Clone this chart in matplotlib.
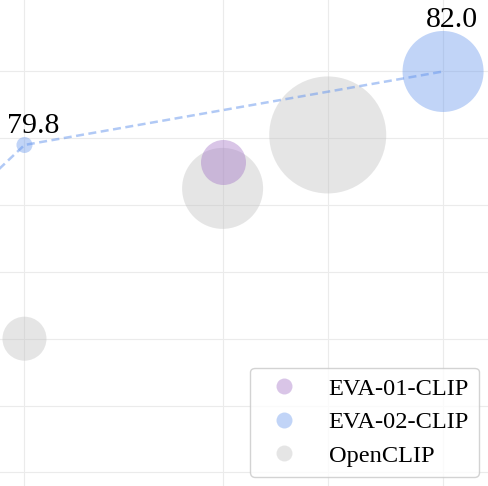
import matplotlib
matplotlib.use("Agg")
import matplotlib.pyplot as plt
from matplotlib.lines import Line2D
import numpy as np

plt.rcParams['font.family'] = ['Liberation Serif', 'DejaVu Serif']

# Data: model size (billions of params), zero-shot top-1, bubble area (pt^2)
eva01_params = [1.37]
eva01_acc = [79.3]
eva01_size = [1050]

eva02_params = [0.149, 0.428, 5.0]
eva02_acc = [74.7, 79.8, 82.0]
eva02_size = [60, 133, 3402]
eva02_labels = [None, "79.8", "82.0"]

openclip_params = [0.428, 1.37, 2.54]
openclip_acc = [74.0, 78.5, 80.1]
openclip_size = [1004, 3402, 7098]

grid_x = [0.428, 1.37, 2.54, 5.0]
grid_y = [70, 72, 74, 76, 78, 80, 82]

c_eva01 = '#a070c5'
c_eva02 = 'cornflowerblue'
c_open = 'silver'
alpha = 0.4

fig = plt.figure(figsize=(4.88, 4.86), dpi=100)
ax = fig.add_axes([0, 0, 1, 1])
ax.set_xscale('log')
ax.set_xlim(0.3707, 6.51)
ax.set_ylim(69.59, 84.14)
ax.set_xticks(grid_x)
ax.set_yticks(grid_y)
ax.minorticks_off()
ax.tick_params(length=0, labelbottom=False, labelleft=False)
ax.grid(True, color='#ebebeb', linewidth=0.8, zorder=0)
ax.set_axisbelow(True)
for s in ax.spines.values():
    s.set_visible(False)

ax.scatter(openclip_params, openclip_acc, s=openclip_size, color=c_open,
           alpha=alpha, linewidths=0, zorder=2)
ax.scatter(eva01_params, eva01_acc, s=eva01_size, color=c_eva01,
           alpha=alpha, linewidths=0, zorder=3)
ax.scatter(eva02_params, eva02_acc, s=eva02_size, color=c_eva02,
           alpha=alpha, linewidths=0, zorder=3)
ax.plot(eva02_params, eva02_acc, linestyle='--', color=c_eva02, alpha=0.5,
        linewidth=1.8, dashes=(3.2, 1.8), zorder=4)

for p, a, s, lab in zip(eva02_params, eva02_acc, eva02_size, eva02_labels):
    if lab is None:
        continue
    r = np.sqrt(s) / 2.0
    ax.annotate(lab, (p, a), xytext=(6.5, r + 3), textcoords='offset points',
                ha='center', va='baseline', fontsize=21.5, color='black', zorder=5)

handles = [
    Line2D([], [], linestyle='none', marker='o', markersize=11.5,
           markerfacecolor=c_eva01, markeredgewidth=0, alpha=alpha),
    Line2D([], [], linestyle='none', marker='o', markersize=11.5,
           markerfacecolor=c_eva02, markeredgewidth=0, alpha=alpha),
    Line2D([], [], linestyle='none', marker='o', markersize=11.5,
           markerfacecolor=c_open, markeredgewidth=0, alpha=alpha),
]
ax.legend(handles, ['EVA-01-CLIP', 'EVA-02-CLIP', 'OpenCLIP'], loc='lower right',
          fontsize=17.6, borderaxespad=0.37, borderpad=0.41, handlelength=1.97,
          handletextpad=0.82, labelspacing=0.47, edgecolor='#c8c8c8')

fig.savefig('out.png', dpi=100)
